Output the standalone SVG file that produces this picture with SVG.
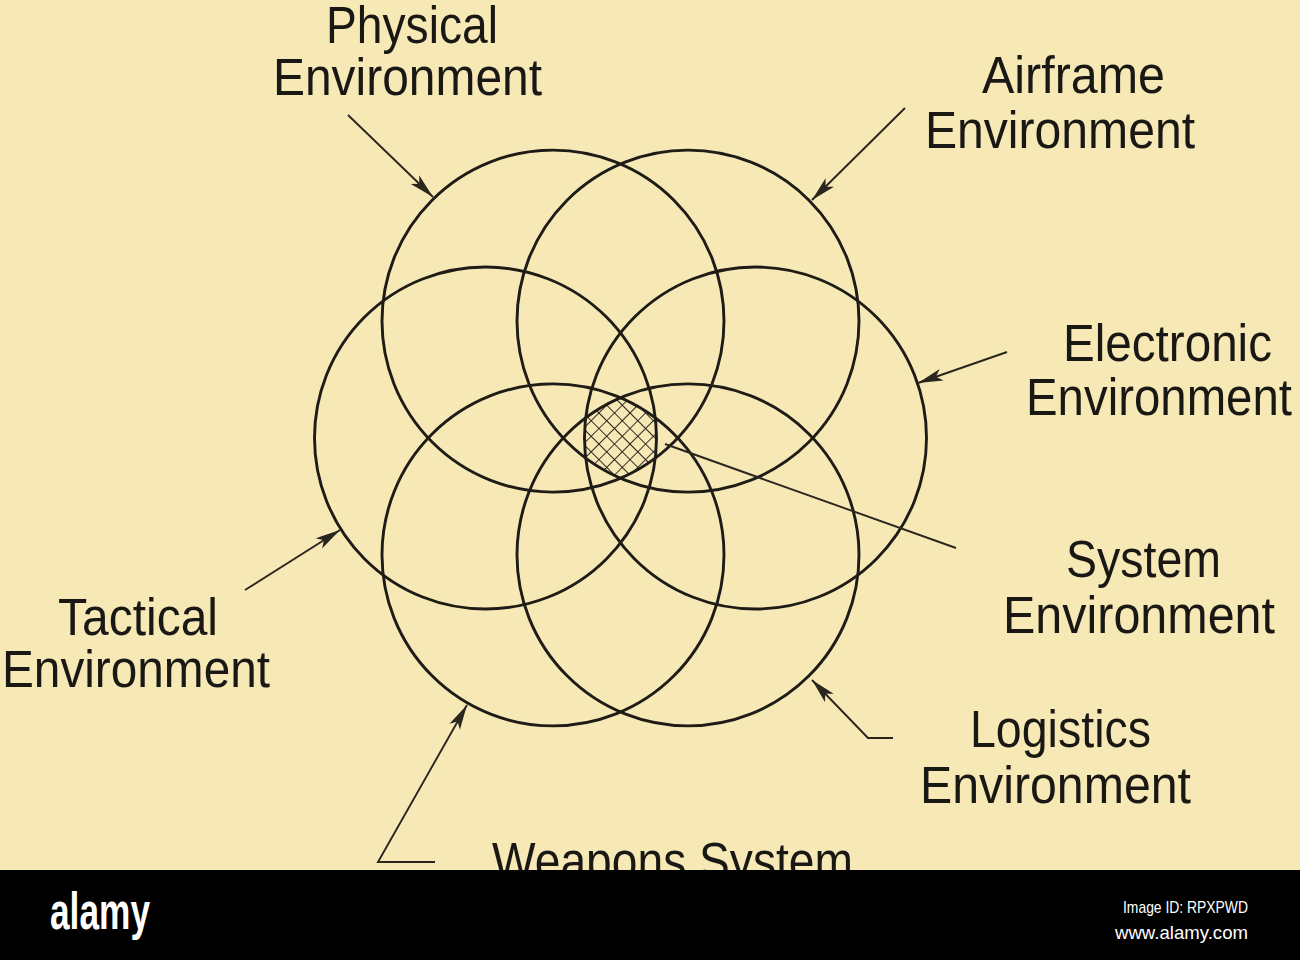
<svg xmlns="http://www.w3.org/2000/svg" width="1300" height="960" viewBox="0 0 1300 960">
  <style>
    .ring { fill: none; stroke: #1f1b16; stroke-width: 2.9; }
    .lbl { font-family: "Liberation Sans", Arial, sans-serif; font-size: 51px; fill: #1a1814; }
    .conn { fill: none; stroke: #2a251d; stroke-width: 1.9; }
    .foot { font-family: "Liberation Sans", Arial, sans-serif; fill: #ffffff; }
  </style>
  <defs>
    <marker id="ah" markerUnits="userSpaceOnUse" markerWidth="28" markerHeight="14" viewBox="-27 -7 28 14" refX="0" refY="0" orient="auto">
      <path d="M0,0 L-25,-6 L-19,0 L-25,6 Z" fill="#2a251d"/>
    </marker>
    <pattern id="xh" patternUnits="userSpaceOnUse" width="11" height="11" patternTransform="rotate(45)">
      <path d="M0,0 H11 M0,0 V11" stroke="#2a251d" stroke-width="1.9" fill="none"/>
    </pattern>
  </defs>

  <rect x="0" y="0" width="1300" height="960" fill="#f7e9b6"/>

  <g id="node-system-core">
    <path d="M655.3,417.9 A171,171 0 0 1 655.3,458.1 A171,171 0 0 1 620.5,478.2 A171,171 0 0 1 585.7,458.1 A171,171 0 0 1 585.7,417.9 A171,171 0 0 1 620.5,397.8 A171,171 0 0 1 655.3,417.9 Z" fill="url(#xh)"/>
  </g>

  <g id="node-physical">
    <circle class="ring" cx="553" cy="321.1" r="171"/>
    <text class="lbl" x="326" y="43" font-size="47" textLength="172" lengthAdjust="spacingAndGlyphs">Physical</text>
    <text class="lbl" x="273" y="95" textLength="269" lengthAdjust="spacingAndGlyphs">Environment</text>
  </g>

  <g id="node-airframe">
    <circle class="ring" cx="688" cy="321.1" r="171"/>
    <text class="lbl" x="982" y="93" textLength="183" lengthAdjust="spacingAndGlyphs">Airframe</text>
    <text class="lbl" x="925" y="148" textLength="270" lengthAdjust="spacingAndGlyphs">Environment</text>
  </g>

  <g id="node-tactical">
    <circle class="ring" cx="485.5" cy="438" r="171"/>
    <text class="lbl" x="58" y="635" textLength="160" lengthAdjust="spacingAndGlyphs">Tactical</text>
    <text class="lbl" x="2" y="687" textLength="268" lengthAdjust="spacingAndGlyphs">Environment</text>
  </g>

  <g id="node-electronic">
    <circle class="ring" cx="755.5" cy="438" r="171"/>
    <text class="lbl" x="1063" y="361" textLength="209" lengthAdjust="spacingAndGlyphs">Electronic</text>
    <text class="lbl" x="1026" y="415" font-size="46" textLength="266" lengthAdjust="spacingAndGlyphs">Environment</text>
  </g>

  <g id="node-weapons">
    <circle class="ring" cx="553" cy="554.9" r="171"/>
    <text class="lbl" x="492" y="879" textLength="361" lengthAdjust="spacingAndGlyphs">Weapons System</text>
  </g>

  <g id="node-logistics">
    <circle class="ring" cx="688" cy="554.9" r="171"/>
    <text class="lbl" x="970" y="747" textLength="181" lengthAdjust="spacingAndGlyphs">Logistics</text>
    <text class="lbl" x="920" y="803" textLength="271" lengthAdjust="spacingAndGlyphs">Environment</text>
  </g>

  <g id="node-system">
    <text class="lbl" x="1066" y="577" textLength="155" lengthAdjust="spacingAndGlyphs">System</text>
    <text class="lbl" x="1003" y="633" textLength="272" lengthAdjust="spacingAndGlyphs">Environment</text>
  </g>

  <g id="connectors">
    <path class="conn" d="M348,115 L433,197" marker-end="url(#ah)"/>
    <path class="conn" d="M905,108 L812,200" marker-end="url(#ah)"/>
    <path class="conn" d="M1007,352 L918,383" marker-end="url(#ah)"/>
    <path class="conn" d="M245,590 L340,530" marker-end="url(#ah)"/>
    <path class="conn" d="M893,738 H868 L812,680" marker-end="url(#ah)"/>
    <path class="conn" d="M435,862 H378 L467,705" marker-end="url(#ah)"/>
    <path class="conn" d="M665,444 L956,548"/>
  </g>

  <g id="footer">
    <rect x="0" y="870" width="1300" height="90" fill="#000000"/>
    <text class="foot" x="50" y="929" font-size="52" font-weight="bold" textLength="100" lengthAdjust="spacingAndGlyphs">alamy</text>
    <text class="foot" x="1248" y="913" font-size="17" text-anchor="end" textLength="125" lengthAdjust="spacingAndGlyphs">Image ID: RPXPWD</text>
    <text class="foot" x="1248" y="939" font-size="19" text-anchor="end" textLength="133" lengthAdjust="spacingAndGlyphs">www.alamy.com</text>
  </g>
</svg>
